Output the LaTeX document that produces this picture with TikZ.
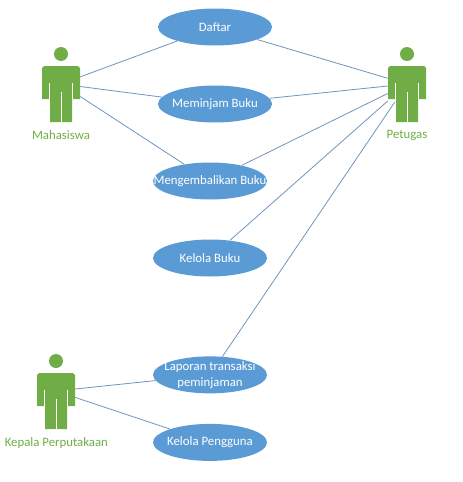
\documentclass[tikz,border=0pt]{standalone}
\usepackage{fontspec}
\setmainfont{Carlito}
\usetikzlibrary{shapes.geometric, positioning}
\definecolor{ellipseblue}{HTML}{5B9BD5}
\definecolor{actorgreen}{HTML}{70AD47}
\definecolor{linkblue}{HTML}{6F94BF}
\tikzstyle{usecase} = [ellipse, fill=ellipseblue, minimum width=85.5pt, minimum height=27.75pt, inner sep=0pt]
\tikzstyle{usecasetext} = [text=white, align=center, inner sep=0pt]
\tikzstyle{actorbox} = [rectangle, minimum width=28.5pt, minimum height=27pt, inner sep=0pt]
\tikzstyle{actorlabel} = [text=actorgreen, inner sep=0pt]
\tikzstyle{link} = [linkblue, line width=0.6pt]
\tikzset{actorfig/.pic={
    \fill [actorgreen] (0,-30) circle (5.25pt);
    \fill [actorgreen] (-17,-18) -- (17,-18) -- (19,-16) -- (19,15) -- (11,15) -- (11,38) -- (-11,38) -- (-11,15) -- (-19,15) -- (-19,-16) -- cycle;
    \draw [white, line width=0.4pt] (-11.5,-1) -- (-11.5,15);
    \draw [white, line width=0.4pt] (11.5,-1) -- (11.5,15);
    \draw [white, line width=0.4pt] (0,8) -- (0,38);
}}

\begin{document}
\begin{tikzpicture}[x=0.75pt, y=-0.75pt, node distance=29.6pt, font=\fontsize{9.6}{12}\selectfont]
    \useasboundingbox (0,0) rectangle (463,482);

    \node (daftar) [usecase, label={[usecasetext]center:Daftar}] at (215,27) {};
    \node (pinjam) [usecase, below=of daftar, label={[usecasetext]center:Meminjam Buku}] {};
    \node (kembali) [usecase, below=of pinjam, xshift=-3.75pt, label={[usecasetext]center:Mengembalikan Buku}] {};
    \node (buku) [usecase, below=of kembali, label={[usecasetext]center:Kelola Buku}] {};
    \node (laporan) [usecase, below=59.5pt of buku, label={[usecasetext]center:Laporan transaksi\\peminjaman}] {};
    \node (pengguna) [usecase, below=22.5pt of laporan, label={[usecasetext]center:Kelola Pengguna}] {};

    \node (mhs) [actorbox] at (61,84) {};
    \node (ptg) [actorbox] at (407,84) {};
    \node (kpl) [actorbox] at (56,391) {};
    \node (mhslabel) [actorlabel, below=20.75pt of mhs] {Mahasiswa};
    \node (ptglabel) [actorlabel, below=20.75pt of ptg] {Petugas};
    \node (kpllabel) [actorlabel, below=20.75pt of kpl, xshift=0.25pt] {Kepala Perputakaan};

    \draw [link] (mhs) -- (daftar);
    \draw [link] (mhs) -- (pinjam);
    \draw [link] (mhs) -- (kembali);
    \draw [link] (ptg) -- (daftar);
    \draw [link] (ptg) -- (pinjam);
    \draw [link] (ptg) -- (kembali);
    \draw [link] (ptg) -- (buku);
    \draw [link] (ptg) -- (laporan);
    \draw [link] (kpl) -- (laporan);
    \draw [link] (kpl) -- (pengguna);

    \pic at (mhs) {actorfig};
    \pic at (ptg) {actorfig};
    \pic at (kpl) {actorfig};
\end{tikzpicture}
\end{document}
